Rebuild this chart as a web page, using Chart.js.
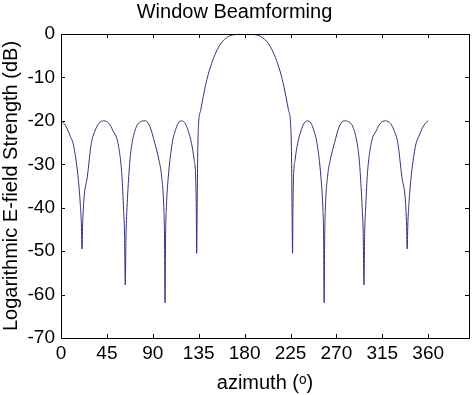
<!DOCTYPE html>
<html>
<head>
<meta charset="utf-8">
<title>Window Beamforming</title>
<script src="https://cdn.jsdelivr.net/npm/chart.js@4/dist/chart.umd.min.js"></script>
<style>
    body { margin: 0; background: #fff; }
    #beam-chart { display: block; }
</style>
</head>
<body>
<canvas id="beam-chart" width="474" height="395"></canvas>
<script>
// values
const azimuth = [
    0, 3, 6, 9, 12, 15, 17, 19, 20, 20.6, 21.2, 22.5, 25.8, 29.7, 33, 37, 42, 47, 51, 55.9,
    59.8, 61.4, 62.3, 63, 63.7, 64.7, 66.4, 67.6, 69.6, 73.8, 78, 82.4, 87, 92, 96, 98.7,
    100.8, 101.5, 102, 102.5, 103.3, 105.2, 109, 112, 115, 118.3, 122, 125, 128, 130.5, 132,
    132.6, 133, 133.5, 133.9, 134.6, 137, 139.5, 143, 147.7, 152, 157, 164, 170, 175, 180,
    185, 190, 196, 203, 208, 212.3, 217, 220.5, 223, 225.4, 226.1, 226.5, 227, 227.4, 228,
    229.5, 232, 235, 238, 241.7, 245, 248, 251, 254.8, 256.7, 257.5, 258, 258.5, 259.2, 261.3,
    264, 268, 273, 277.6, 282, 286.2, 290.4, 292.4, 293.6, 295.3, 296.3, 297, 297.7, 298.6,
    300.2, 304.1, 309, 313, 318, 323, 327, 330.3, 334.2, 337.5, 338.8, 339.4, 340, 341, 343,
    345, 348, 351, 354, 357, 360
];
const strength = [
    -20, -20.6, -21.8, -23.5, -25.3, -29.5, -33.5, -39.5, -44, -49.5, -44, -38, -32.9, -25.2, -22.5, -20.6, -20, -20.6, -22.3, -25.2,
    -32.9, -40.6, -46, -57.8, -47, -40, -32.9, -29, -25.2, -21.4, -20.2, -20, -21.2, -25.2, -29, -32.9,
    -40, -47, -61.9, -47, -40, -32.9, -25.2, -22.3, -20.5, -20, -20.7, -22.5, -25.2, -29, -32.9,
    -40, -50.5, -40, -30, -22, -17.5, -14.4, -10.5, -6.75, -4.2, -2.1, -0.6, -0.15, 0, 0,
    0, -0.15, -0.6, -2.1, -4.2, -6.75, -10.5, -14.4, -17.5, -22, -30, -40, -50.5, -40, -32.9,
    -29, -25.2, -22.5, -20.7, -20, -20.5, -22.3, -25.2, -32.9, -40, -47, -61.9, -47, -40, -32.9,
    -29, -25.2, -21.2, -20, -20.2, -21.4, -25.2, -29, -32.9, -40, -46, -57.8, -46, -40.6,
    -32.9, -25.2, -22.3, -20.6, -20, -20.6, -22.5, -25.2, -32.9, -38, -44, -49.5, -44, -39.5, -33.5,
    -29.5, -25.3, -23.5, -21.8, -20.6, -20
];
const xTicks = [0, 45, 90, 135, 180, 225, 270, 315, 360];
const yTicks = [-70, -60, -50, -40, -30, -20, -10, 0];

const fontFamily = "'Liberation Sans', Arial, sans-serif";

// matlab style box with inward ticks
const boxPlugin = {
    id: 'matlabBox',
    afterDraw(chart) {
        const { ctx, chartArea: a, scales } = chart;
        ctx.save();
        ctx.strokeStyle = '#000';
        ctx.lineWidth = 1;
        ctx.strokeRect(Math.round(a.left) + 0.5, Math.round(a.top) + 0.5,
            Math.round(a.right - a.left), Math.round(a.bottom - a.top));
        ctx.beginPath();
        xTicks.forEach(v => {
            const x = Math.round(scales.x.getPixelForValue(v)) + 0.5;
            ctx.moveTo(x, a.bottom); ctx.lineTo(x, a.bottom - 4);
            ctx.moveTo(x, a.top); ctx.lineTo(x, a.top + 4);
        });
        yTicks.forEach(v => {
            const y = Math.round(scales.y.getPixelForValue(v)) + 0.5;
            ctx.moveTo(a.left, y); ctx.lineTo(a.left + 4, y);
            ctx.moveTo(a.right, y); ctx.lineTo(a.right - 4, y);
        });
        ctx.stroke();
        ctx.restore();
    }
};

const ctx = document.getElementById('beam-chart').getContext('2d');

new Chart(ctx, {
    type: 'line',
    data: {
        datasets: [{
            data: azimuth.map((a, i) => ({ x: a, y: strength[i] })),
            borderColor: 'rgb(50, 50, 125)',
            borderWidth: 1,
            pointRadius: 0,
            fill: false,
            cubicInterpolationMode: 'monotone'
        }]
    },
    options: {
        responsive: false,
        animation: false,
        devicePixelRatio: 1,
        layout: { padding: { left: 0, right: 5, top: 0, bottom: 0 } },
        plugins: {
            legend: { display: false },
            tooltip: { enabled: false },
            title: {
                display: true,
                text: 'Window Beamforming',
                color: '#000',
                font: { family: fontFamily, size: 20, weight: 'normal', lineHeight: 1.2 },
                padding: { top: 0, bottom: 10 }
            }
        },
        scales: {
            x: {
                type: 'linear',
                min: 0,
                max: 400,
                grid: { display: false, drawTicks: false },
                border: { display: false },
                afterBuildTicks: scale => { scale.ticks = xTicks.map(v => ({ value: v })); },
                afterFit: scale => { scale.height = 57; },
                ticks: {
                    color: '#000',
                    padding: 4,
                    maxRotation: 0,
                    autoSkip: false,
                    font: { family: fontFamily, size: 19 }
                },
                title: {
                    display: true,
                    text: 'azimuth (ᵒ)',
                    color: '#000',
                    font: { family: fontFamily, size: 20, lineHeight: 1.2 },
                    padding: { top: 0, bottom: 0 }
                }
            },
            y: {
                min: -70,
                max: 0,
                grid: { display: false, drawTicks: false },
                border: { display: false },
                afterBuildTicks: scale => { scale.ticks = yTicks.map(v => ({ value: v })); },
                afterFit: scale => { scale.width = 61; },
                ticks: {
                    color: '#000',
                    padding: 6,
                    font: { family: fontFamily, size: 19 }
                },
                title: {
                    display: true,
                    text: 'Logarithmic E-field Strength (dB)',
                    color: '#000',
                    font: { family: fontFamily, size: 20, lineHeight: 1 },
                    padding: { top: 1, bottom: 0 }
                }
            }
        }
    },
    plugins: [boxPlugin]
});
</script>
</body>
</html>
